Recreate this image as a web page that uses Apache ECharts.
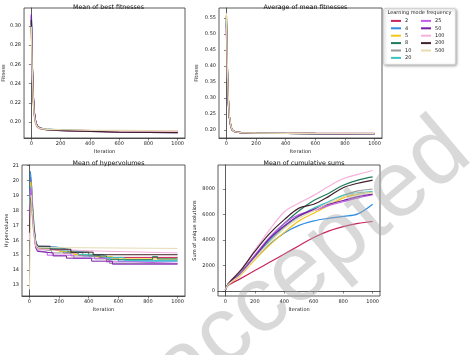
<!DOCTYPE html>
<html><head><meta charset="utf-8">
<script src="https://cdn.jsdelivr.net/npm/echarts@6/dist/echarts.min.js"></script>
<style>html,body{margin:0;padding:0;background:#fff}#c{width:474px;height:355px}</style>
</head><body><div id="c"></div>
<script>
const freqs = ['2','4','5','8','10','20','25','50','100','200','500'];
const colors = ['#c8245a','#2f8ee0','#f5c518','#1f7a5c','#999999','#3cc4c4','#c25ee8','#7a1fa8','#f7b0dc','#42202c','#e6dcb4'];
const iterTicks = [0,200,400,600,800,1000];

// Panel 1: Mean of best fitnesses
const bestIter = [0,5,10,15,20,30,40,60,100,200,400,600,800,1000];
const best2   = [0.300,0.262,0.236,0.219,0.208,0.1990,0.1955,0.1935,0.1925,0.1918,0.1912,0.1908,0.1905,0.1903];
const best4   = [0.305,0.266,0.239,0.221,0.209,0.1995,0.1958,0.1937,0.1927,0.1919,0.1912,0.1907,0.1904,0.1902];
const best5   = [0.298,0.260,0.235,0.218,0.207,0.1985,0.1952,0.1933,0.1923,0.1915,0.1909,0.1905,0.1902,0.1900];
const best8   = [0.310,0.268,0.240,0.222,0.210,0.2000,0.1960,0.1938,0.1926,0.1917,0.1908,0.1902,0.1898,0.1896];
const best10  = [0.296,0.259,0.234,0.217,0.207,0.1985,0.1950,0.1932,0.1922,0.1914,0.1907,0.1903,0.1900,0.1898];
const best20  = [0.303,0.264,0.237,0.220,0.209,0.1992,0.1955,0.1935,0.1924,0.1916,0.1909,0.1904,0.1901,0.1899];
const best25  = [0.308,0.267,0.239,0.221,0.210,0.1998,0.1958,0.1936,0.1925,0.1915,0.1906,0.1900,0.1896,0.1893];
const best50  = [0.312,0.270,0.241,0.223,0.211,0.2002,0.1960,0.1937,0.1925,0.1914,0.1904,0.1898,0.1894,0.1891];
const best100 = [0.295,0.258,0.233,0.217,0.206,0.1980,0.1948,0.1930,0.1921,0.1914,0.1908,0.1905,0.1903,0.1902];
const best200 = [0.306,0.266,0.238,0.221,0.209,0.1994,0.1956,0.1934,0.1923,0.1913,0.1903,0.1897,0.1893,0.1890];
const best500 = [0.299,0.261,0.236,0.219,0.208,0.1990,0.1953,0.1934,0.1926,0.1921,0.1916,0.1913,0.1911,0.1910];
const bestTicks = [0.20,0.22,0.24,0.26,0.28,0.30];

// Panel 2: Average of mean fitnesses
const meanIter = [0,5,10,15,20,30,40,60,100,200,400,600,800,1000];
const mean2   = [0.512,0.400,0.320,0.270,0.238,0.2100,0.1990,0.1935,0.1915,0.1902,0.1893,0.1889,0.1886,0.1884];
const mean4   = [0.540,0.415,0.330,0.275,0.241,0.2110,0.1995,0.1937,0.1916,0.1903,0.1894,0.1889,0.1886,0.1884];
const mean5   = [0.560,0.425,0.335,0.278,0.243,0.2120,0.2000,0.1938,0.1917,0.1904,0.1895,0.1890,0.1887,0.1885];
const mean8   = [0.530,0.410,0.325,0.272,0.240,0.2105,0.1993,0.1936,0.1915,0.1902,0.1892,0.1887,0.1884,0.1882];
const mean10  = [0.550,0.420,0.332,0.276,0.242,0.2115,0.1997,0.1937,0.1916,0.1903,0.1894,0.1889,0.1886,0.1884];
const mean20  = [0.545,0.418,0.331,0.275,0.241,0.2110,0.1995,0.1936,0.1915,0.1902,0.1893,0.1888,0.1885,0.1883];
const mean25  = [0.525,0.408,0.324,0.272,0.239,0.2105,0.1993,0.1936,0.1916,0.1903,0.1895,0.1891,0.1889,0.1888];
const mean50  = [0.535,0.412,0.327,0.273,0.240,0.2110,0.1995,0.1937,0.1917,0.1905,0.1897,0.1893,0.1891,0.1890];
const mean100 = [0.515,0.402,0.321,0.270,0.238,0.2098,0.1990,0.1935,0.1916,0.1904,0.1896,0.1892,0.1890,0.1889];
const mean200 = [0.555,0.422,0.334,0.277,0.242,0.2115,0.1998,0.1938,0.1918,0.1905,0.1896,0.1891,0.1888,0.1886];
const mean500 = [0.565,0.428,0.337,0.279,0.244,0.2125,0.2002,0.1940,0.1918,0.1906,0.1898,0.1894,0.1892,0.1891];
const meanTicks = [0.20,0.25,0.30,0.35,0.40,0.45,0.50,0.55];

// Panel 3: Mean of hypervolumes ([iteration, value])
const hv2   = [[0,17.6],[8,20.2],[15,19.6],[25,17.5],[40,16.0],[55,15.5],[120,15.4],[120,15.3],[230,15.3],[230,15.15],[330,15.15],[330,15.0],[470,15.0],[470,14.85],[1000,14.85]];
const hv4   = [[0,18.0],[7,20.6],[14,19.8],[25,17.8],[40,16.1],[55,15.6],[180,15.55],[180,15.45],[240,15.45],[240,15.2],[360,15.2],[360,14.95],[480,14.95],[480,14.8],[600,14.8],[600,14.6],[1000,14.6]];
const hv5   = [[0,17.2],[9,19.9],[16,19.2],[26,17.3],[40,15.9],[55,15.5],[200,15.4],[200,15.25],[300,15.25],[300,15.05],[450,15.05],[450,14.9],[560,14.9],[560,14.75],[1000,14.75]];
const hv8   = [[0,17.0],[10,19.0],[18,18.6],[28,17.0],[42,15.9],[58,15.5],[260,15.4],[260,15.2],[400,15.2],[400,14.95],[520,14.95],[520,14.7],[830,14.7],[830,14.9],[865,14.9],[865,14.75],[1000,14.75]];
const hv10  = [[0,16.5],[10,18.2],[20,17.6],[30,16.5],[45,15.7],[60,15.4],[150,15.3],[150,15.15],[280,15.15],[280,14.95],[440,14.95],[440,14.75],[540,14.75],[540,14.45],[1000,14.45]];
const hv20  = [[0,17.4],[9,19.6],[16,19.0],[27,17.2],[42,15.9],[58,15.55],[210,15.45],[210,15.3],[330,15.3],[330,15.05],[500,15.05],[500,14.85],[640,14.85],[640,14.65],[1000,14.65]];
const hv25  = [[0,16.8],[9,19.5],[17,18.8],[28,16.9],[42,15.6],[55,15.3],[120,15.2],[120,15.0],[300,15.0],[300,14.8],[520,14.8],[520,14.55],[700,14.55],[700,14.45],[1000,14.45]];
const hv50  = [[0,17.0],[10,18.9],[18,18.2],[28,16.7],[42,15.5],[55,15.25],[160,15.15],[160,14.95],[250,14.95],[250,14.8],[420,14.8],[420,14.6],[560,14.6],[560,14.4],[1000,14.4]];
const hv100 = [[0,16.0],[8,18.5],[16,18.0],[28,16.5],[42,15.6],[55,15.4],[260,15.35],[260,15.27],[480,15.27],[480,15.15],[1000,15.15]];
const hv200 = [[0,16.5],[8,18.8],[16,18.5],[28,17.0],[42,15.9],[55,15.6],[140,15.6],[140,15.4],[280,15.4],[280,15.2],[430,15.2],[430,15.03],[1000,15.03]];
const hv500 = [[0,12.7],[6,16.5],[12,19.0],[20,18.0],[30,16.6],[45,15.7],[60,15.5],[300,15.5],[300,15.45],[1000,15.45]];
const hvTicks = [13,14,15,16,17,18,19,20,21];

// Panel 4: Mean of cumulative sums
const cumIter = [0,20,100,200,300,400,500,600,700,800,900,1000];
const cum2   = [100,450,950,1600,2250,2900,3550,4200,4700,5050,5300,5450];
const cum4   = [100,500,1250,2500,3650,4550,5150,5500,5700,5850,6050,6800];
const cum5   = [100,500,1200,2450,3600,4600,5500,6100,6700,7300,7600,7750];
const cum8   = [100,550,1400,2800,4150,5300,6300,7100,7650,8300,8700,8950];
const cum10  = [100,520,1300,2650,3900,5000,5850,6350,6900,7500,7850,8000];
const cum20  = [100,530,1350,2700,4000,5100,5900,6500,7000,7500,7700,7800];
const cum25  = [100,540,1350,2800,4200,5300,6000,6300,6700,7000,7300,7550];
const cum50  = [100,540,1300,2700,4100,5100,5900,6400,6800,7100,7400,7600];
const cum100 = [100,600,1600,3200,4800,6200,6900,7500,8200,8800,9150,9450];
const cum200 = [100,580,1550,3100,4500,5600,6500,6800,7400,8100,8450,8700];
const cum500 = [100,520,1250,2550,3800,4900,5700,6300,6900,7400,7650,7700];
const cumTicks = [0,2000,4000,6000,8000];

const bestVals = [best2,best4,best5,best8,best10,best20,best25,best50,best100,best200,best500];
const meanVals = [mean2,mean4,mean5,mean8,mean10,mean20,mean25,mean50,mean100,mean200,mean500];
const hvVals = [hv2,hv4,hv5,hv8,hv10,hv20,hv25,hv50,hv100,hv200,hv500];
const cumVals = [cum2,cum4,cum5,cum8,cum10,cum20,cum25,cum50,cum100,cum200,cum500];

const FONT = 'DejaVu Sans';
const AX = '#333';
function xAxis(gi){
  return {type:'value', gridIndex:gi, min:-50, max:1050,
    name:'Iteration', nameLocation:'middle', nameGap:11,
    nameTextStyle:{fontFamily:FONT,fontSize:5,color:'#222'},
    axisLine:{show:true,lineStyle:{color:AX,width:0.8}},
    axisTick:{show:true,inside:false,length:2.5,lineStyle:{color:AX,width:0.6},customValues:iterTicks},
    axisLabel:{fontFamily:FONT,fontSize:5,color:'#222',margin:3,customValues:iterTicks,formatter:v=>String(v)},
    splitLine:{show:false}};
}
function yAxis(gi,min,max,ticks,name,gap,fmt){
  return {type:'value', gridIndex:gi, min:min, max:max,
    name:name, nameLocation:'middle', nameGap:gap, nameRotate:90,
    nameTextStyle:{fontFamily:FONT,fontSize:5,color:'#222'},
    axisLine:{show:true,lineStyle:{color:AX,width:0.8}},
    axisTick:{show:true,inside:false,length:2.5,lineStyle:{color:AX,width:0.6},customValues:ticks},
    axisLabel:{fontFamily:FONT,fontSize:5,color:'#222',margin:3,customValues:ticks,formatter:fmt},
    splitLine:{show:false}};
}
const series = [];
function addPanel(gi, iters, vals, width, smooth){
  vals.forEach((v,i)=>{
    const data = iters ? v.map((y,k)=>[iters[k],y]) : v;
    series.push({type:'line', name:freqs[i], xAxisIndex:gi, yAxisIndex:gi,
      data:data, showSymbol:false, symbol:'none', smooth:smooth||false,
      lineStyle:{color:colors[i],width:width}, itemStyle:{color:colors[i]},
      emphasis:{disabled:true}, animation:false});
  });
}
addPanel(0,bestIter,bestVals,1.3);
addPanel(1,meanIter,meanVals,1.3);
addPanel(2,null,hvVals,1);
addPanel(3,cumIter,cumVals,1.2,0.35);

const titleStyle = {fontFamily:FONT,fontSize:6.3,fontWeight:'normal',color:'#111'};
const legendBase = {orient:'vertical', itemWidth:10, itemHeight:2, itemGap:0.6,
  icon:'rect', textStyle:{fontFamily:FONT,fontSize:5,color:'#222',lineHeight:6.8,padding:[0,0,0,-1]},
  selectedMode:false, padding:0};
const option = {
  backgroundColor:'#fff',
  animation:false,
  title:[
    {text:'Mean of best fitnesses', left:103.5, top:-1, textAlign:'center', textStyle:titleStyle},
    {text:'Average of mean fitnesses', left:300.5, top:-1, textAlign:'center', textStyle:titleStyle},
    {text:'Mean of hypervolumes', left:103.5, top:155.5, textAlign:'center', textStyle:titleStyle},
    {text:'Mean of cumulative sums', left:299, top:155.5, textAlign:'center', textStyle:titleStyle}
  ],
  grid:[
    {left:22, top:8, width:163, height:130, show:true, borderColor:AX, borderWidth:0.8, backgroundColor:'#fff'},
    {left:219, top:8, width:163, height:130, show:true, borderColor:AX, borderWidth:0.8, backgroundColor:'#fff'},
    {left:22, top:165, width:163, height:131, show:true, borderColor:AX, borderWidth:0.8, backgroundColor:'#fff'},
    {left:218, top:165, width:162, height:131, show:true, borderColor:AX, borderWidth:0.8, backgroundColor:'#fff'}
  ],
  xAxis:[xAxis(0),xAxis(1),xAxis(2),xAxis(3)],
  yAxis:[
    yAxis(0,0.1835,0.3186,bestTicks,'Fitness',18,v=>v.toFixed(2)),
    yAxis(1,0.175,0.581,meanTicks,'Fitness',20,v=>v.toFixed(2)),
    yAxis(2,12.27,21.03,hvTicks,'Hypervolume',13,v=>String(v)),
    yAxis(3,-392,9882,cumTicks,'Sum of unique solutions',21,v=>String(v))
  ],
  legend:[
    Object.assign({left:391, top:17.5, data:freqs.slice(0,6)}, legendBase),
    Object.assign({left:421, top:17.5, data:freqs.slice(6)}, legendBase)
  ],
  graphic:[
    {type:'rect', z:-1, shape:{x:383.5,y:8.5,width:72,height:56,r:1.5},
      style:{fill:'#fff',stroke:'#d0d0d0',lineWidth:0.8,shadowBlur:3,shadowColor:'rgba(0,0,0,0.35)',shadowOffsetX:1,shadowOffsetY:1}},
    {type:'text', x:419.5, y:10, style:{text:'Learning mode frequency', fontFamily:FONT, fontSize:5, fill:'#222', textAlign:'center'}},
    {type:'text', x:312, y:262, rotation:0.70, z:100, silent:true,
      style:{text:'accepted', fontFamily:'Liberation Sans', fontSize:94, fill:'rgba(170,170,170,0.45)', textAlign:'center', textVerticalAlign:'middle'}}
  ],
  series:series
};
const chart = echarts.init(document.getElementById('c'), null, {renderer:'canvas'});
chart.setOption(option);
</script>
</body></html>
